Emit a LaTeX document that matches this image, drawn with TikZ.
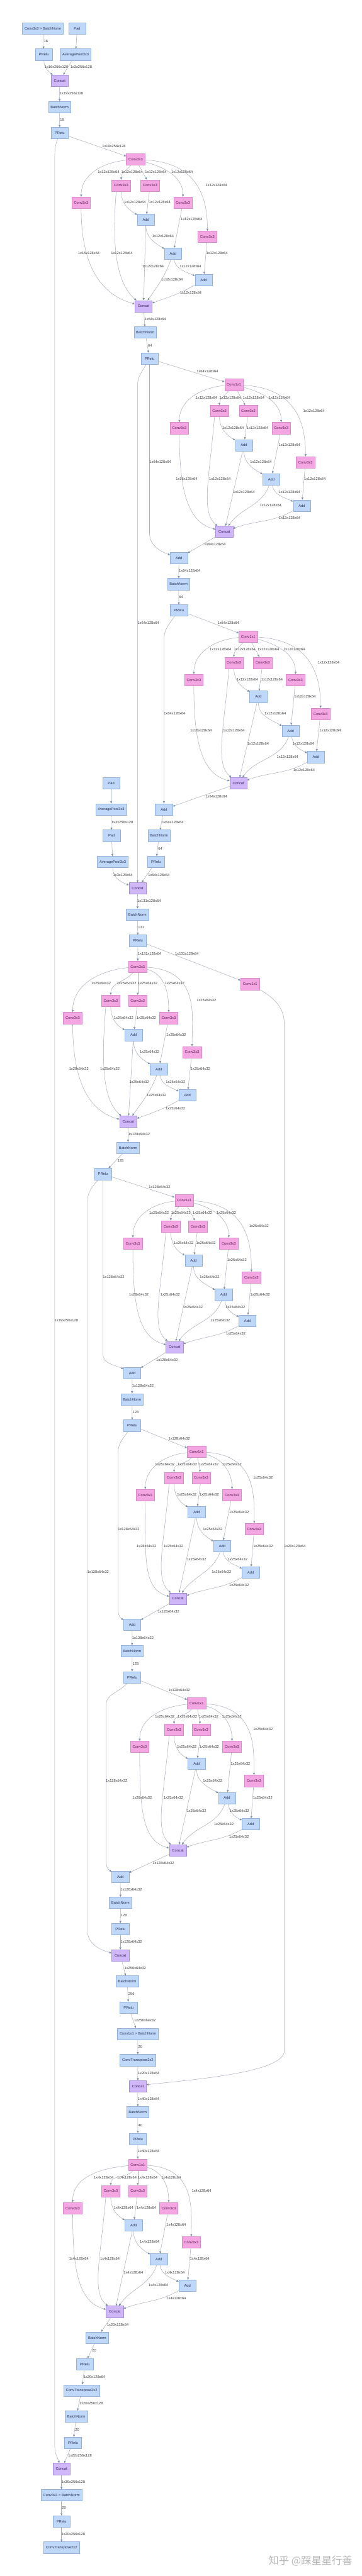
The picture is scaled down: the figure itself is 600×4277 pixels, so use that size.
\documentclass[tikz,border=0pt]{standalone}
\usepackage{fontspec}
\setmainfont{Liberation Sans}
\newfontfamily\cjkfont{Noto Sans CJK SC}
\usetikzlibrary{arrows.meta}
\definecolor{bfill}{RGB}{191,215,249}
\definecolor{bdraw}{RGB}{147,177,219}
\definecolor{pfill}{RGB}{244,166,227}
\definecolor{pdraw}{RGB}{212,138,203}
\definecolor{ufill}{RGB}{207,183,249}
\definecolor{udraw}{RGB}{165,142,214}
\definecolor{ecol}{RGB}{168,175,188}
\definecolor{acol}{RGB}{125,142,170}
\definecolor{lcol}{RGB}{60,60,60}
\definecolor{tcol}{RGB}{40,48,80}
\definecolor{ptcol}{RGB}{90,30,80}
\definecolor{utcol}{RGB}{60,30,90}
\newcommand\fsz{\fontsize{6}{7}\selectfont}
\tikzset{
  box/.style={draw, line width=0.55pt, minimum width=28.5pt, minimum height=19pt, inner xsep=3.6pt, inner ysep=0pt, font=\fsz, text=tcol},
  bl/.style={box, fill=bfill, draw=bdraw},
  pk/.style={box, fill=pfill, draw=pdraw, text=ptcol},
  pu/.style={box, fill=ufill, draw=udraw, text=utcol},
  edge/.style={draw=ecol, line width=0.55pt, -{Triangle[length=3.6pt,width=3.2pt,color=acol]}},
  lbl/.style={font=\fsz, text=lcol, inner sep=0pt},
}
\newcommand\nd[5]{\node[#2] (#1) at (#3,-#4) {#5};}
\newcommand\eS[5]{\draw[edge] (#1) -- (#2) node[lbl] at (#3,-#4) {#5};}
\newcommand\eN[2]{\draw[edge] (#1) -- (#2);}
\newcommand\fanR[7]{%
 \draw[edge] (#1r) to[out=185,in=90] (#1a) node[lbl] at (#3) {#2};
 \draw[edge] (#1r) to[out=-130,in=90] (#1b) node[lbl] at (#4) {#2};
 \draw[edge] (#1r) -- (#1c) node[lbl] at (#5) {#2};
 \draw[edge] (#1r) to[out=-15,in=90] (#1d) node[lbl] at (#6) {#2};
 \draw[edge] (#1r) to[out=-3,in=90,out looseness=1.5,in looseness=0.8] (#1e) node[lbl] at (#7) {#2};
}
\newcommand\fanS[8]{%
 \draw[edge] (#1b) to[out=-90,in=150] (#1s1) node[lbl] at (#3) {#2};
 \draw[edge] (#1c) -- (#1s1) node[lbl] at (#4) {#2};
 \draw[edge] (#1s1) to[out=-90,in=150] (#1s2) node[lbl] at (#5) {#2};
 \draw[edge] (#1d) -- (#1s2) node[lbl] at (#6) {#2};
 \draw[edge] (#1s2) to[out=-80,in=155] (#1s3) node[lbl] at (#7) {#2};
 \draw[edge] (#1e) -- (#1s3) node[lbl] at (#8) {#2};
}
\newcommand\fanK[8]{%
 \draw[edge] (#1a) to[out=-90,in=165,out looseness=1.5,in looseness=0.7] (#1k) node[lbl] at (#4) {#3};
 \draw[edge] (#1b.-130) to[out=-95,in=140,out looseness=1.5,in looseness=0.5] (#1k) node[lbl] at (#5) {#2};
 \draw[edge] (#1s1) -- (#1k) node[lbl] at (#6) {#2};
 \draw[edge] (#1s2) to[out=-110,in=55] (#1k) node[lbl] at (#7) {#2};
 \draw[edge] (#1s3) to[out=210,in=20] (#1k) node[lbl] at (#8) {#2};
}
% block nodes: prefix, root text, then coordinates
\newcommand\fanNodes[9]{%
 \nd{#1a}{pk}{#3}{Conv3x3}
 \nd{#1b}{pk}{#4}{Conv3x3}
 \nd{#1c}{pk}{#5}{Conv3x3}
 \nd{#1d}{pk}{#6}{Conv3x3}
 \nd{#1e}{pk}{#7}{Conv3x3}
 \nd{#1s1}{bl}{#8}{Add}
 \nd{#1s2}{bl}{#9}{Add}
}
\begin{document}
\begin{tikzpicture}[x=1pt,y=1pt]
\fill[white] (0,0) rectangle (600,-4277);
\useasboundingbox (0,0) rectangle (600,-4277);

% ---------- top ----------
\nd{n1}{bl}{71}{47}{Conv3x3 > BatchNorm}
\nd{n2}{bl}{128}{47}{Pad}
\nd{n3}{bl}{72.7}{90.5}{PRelu}
\nd{n4}{bl}{125.4}{90.5}{AveragePool3x3}
\nd{n5}{pu}{99}{134}{Concat}
\nd{n6}{bl}{98.8}{177.8}{BatchNorm}
\nd{n7}{bl}{99}{221}{PRelu}

% ---------- block 1 ----------
\nd{b1r}{pk}{225}{264.7}{Conv3x3}
\node[pk] (b1a) at (134.6,-336.5) {Conv3x3};
\node[pk] (b1b) at (201,-308) {Conv3x3};
\node[pk] (b1c) at (249,-308) {Conv3x3};
\node[pk] (b1d) at (303.5,-336.5) {Conv3x3};
\node[pk] (b1e) at (344,-393) {Conv3x3};
\node[bl] (b1s1) at (242,-365) {Add};
\node[bl] (b1s2) at (287,-421.3) {Add};
\node[bl] (b1s3) at (337.7,-464.8) {Add};
\node[pu] (b1k) at (238,-508.5) {Concat};
\nd{m1}{bl}{240.8}{551.8}{BatchNorm}
\nd{m2}{bl}{248}{595.5}{PRelu}

% ---------- block 2 ----------
\nd{b2r}{pk}{388}{638.8}{Conv1x1}
\node[pk] (b2a) at (297.5,-710.8) {Conv3x3};
\node[pk] (b2b) at (364,-682.5) {Conv3x3};
\node[pk] (b2c) at (412,-682.5) {Conv3x3};
\node[pk] (b2d) at (466.4,-710.8) {Conv3x3};
\node[pk] (b2e) at (506.7,-767.5) {Conv3x3};
\node[bl] (b2s1) at (404.6,-739.2) {Add};
\node[bl] (b2s2) at (450,-795.8) {Add};
\node[bl] (b2s3) at (500.6,-839.5) {Add};
\node[pu] (b2k) at (372,-882.8) {Concat};
\nd{m3}{bl}{296.7}{926.7}{Add}
\nd{m4}{bl}{296.3}{969.8}{BatchNorm}
\nd{m5}{bl}{296.7}{1013.2}{PRelu}

% ---------- block 3 ----------
\nd{b3r}{pk}{411.7}{1057}{Conv1x1}
\node[pk] (b3a) at (321.5,-1129) {Conv3x3};
\node[pk] (b3b) at (388,-1100.5) {Conv3x3};
\node[pk] (b3c) at (435.7,-1100.5) {Conv3x3};
\node[pk] (b3d) at (490.2,-1129) {Conv3x3};
\node[pk] (b3e) at (531.7,-1185.2) {Conv3x3};
\node[bl] (b3s1) at (428.5,-1156.8) {Add};
\node[bl] (b3s2) at (482,-1213.7) {Add};
\node[bl] (b3s3) at (524,-1257) {Add};
\node[pu] (b3k) at (395.4,-1300.5) {Concat};
\nd{m6}{bl}{271.9}{1343.8}{Add}
\nd{m7}{bl}{263.8}{1387.5}{BatchNorm}
\nd{m8}{bl}{258.8}{1431.2}{PRelu}
\nd{q1}{bl}{184.4}{1300.5}{Pad}
\nd{q2}{bl}{184.4}{1343.8}{AveragePool3x3}
\nd{q3}{bl}{185}{1387.5}{Pad}
\nd{q4}{bl}{187}{1431.2}{AveragePool3x3}
\nd{m9}{pu}{228.2}{1474.8}{Concat}
\nd{m10}{bl}{228}{1518.2}{BatchNorm}
\nd{m11}{bl}{228.7}{1561.8}{PRelu}
\nd{sd}{pk}{414.8}{1633.8}{Conv1x1}

% ---------- block 4 ----------
\nd{b4r}{pk}{228.5}{1605.2}{Conv3x3}
\node[pk] (b4a) at (120.6,-1690.2) {Conv3x3};
\node[pk] (b4b) at (183.7,-1661.8) {Conv3x3};
\node[pk] (b4c) at (228.5,-1661.8) {Conv3x3};
\node[pk] (b4d) at (279.8,-1690.2) {Conv3x3};
\node[pk] (b4e) at (318.5,-1746.8) {Conv3x3};
\node[bl] (b4s1) at (221.5,-1718.5) {Add};
\node[bl] (b4s2) at (263.5,-1775.2) {Add};
\node[bl] (b4s3) at (310.8,-1818.5) {Add};
\node[pu] (b4k) at (212.7,-1862.2) {Concat};
\nd{m12}{bl}{212.3}{1905.8}{BatchNorm}
\nd{m13}{bl}{170.8}{1949.2}{PRelu}

% ---------- block 5 ----------
\nd{b5r}{pk}{305.5}{1993}{Conv1x1}
\node[pk] (b5a) at (220.4,-2064.5) {Conv3x3};
\node[pk] (b5b) at (283.3,-2036.2) {Conv3x3};
\node[pk] (b5c) at (328.3,-2036.2) {Conv3x3};
\node[pk] (b5d) at (379.4,-2064.5) {Conv3x3};
\node[pk] (b5e) at (417,-2121.2) {Conv3x3};
\node[bl] (b5s1) at (321,-2092.8) {Add};
\node[bl] (b5s2) at (371,-2149.8) {Add};
\node[bl] (b5s3) at (410.4,-2192.8) {Add};
\node[pu] (b5k) at (289.6,-2236.5) {Concat};
\nd{m14}{bl}{219.2}{2279.8}{Add}
\nd{m15}{bl}{219}{2323.3}{BatchNorm}
\nd{m16}{bl}{219.2}{2366.8}{PRelu}

% ---------- block 6 ----------
\nd{b6r}{pk}{326}{2410.5}{Conv1x1}
\node[pk] (b6a) at (241,-2482.2) {Conv3x3};
\node[pk] (b6b) at (288.7,-2453.8) {Conv3x3};
\node[pk] (b6c) at (333.7,-2453.8) {Conv3x3};
\node[pk] (b6d) at (384.8,-2482.2) {Conv3x3};
\node[pk] (b6e) at (421.7,-2538.8) {Conv3x3};
\node[bl] (b6s1) at (326.2,-2510.5) {Add};
\node[bl] (b6s2) at (368.5,-2567.2) {Add};
\node[bl] (b6s3) at (415.8,-2610.7) {Add};
\node[pu] (b6k) at (295,-2654.3) {Concat};
\nd{m17}{bl}{219.2}{2697.8}{Add}
\nd{m18}{bl}{219}{2741.5}{BatchNorm}
\nd{m19}{bl}{219.2}{2784.8}{PRelu}

% ---------- block 7 ----------
\nd{b7r}{pk}{326}{2828.3}{Conv1x1}
\node[pk] (b7a) at (231.7,-2900.2) {Conv3x3};
\node[pk] (b7b) at (288.7,-2871.8) {Conv3x3};
\node[pk] (b7c) at (333.7,-2871.8) {Conv3x3};
\node[pk] (b7d) at (384.8,-2900.2) {Conv3x3};
\node[pk] (b7e) at (421.2,-2956.8) {Conv3x3};
\node[bl] (b7s1) at (326.2,-2928.5) {Add};
\node[bl] (b7s2) at (376.5,-2985.2) {Add};
\node[bl] (b7s3) at (415.8,-3028.8) {Add};
\node[pu] (b7k) at (295,-3072.2) {Concat};
\nd{m20}{bl}{199.6}{3115.8}{Add}
\nd{m21}{bl}{199.8}{3159.2}{BatchNorm}
\nd{m22}{bl}{199.6}{3202.8}{PRelu}
\nd{m23}{pu}{199.6}{3246.5}{Concat}
\nd{m24}{bl}{211}{3289.8}{BatchNorm}
\nd{m25}{bl}{213.3}{3333.2}{PRelu}
\nd{m26}{bl}{228.7}{3376.8}{Conv1x1 > BatchNorm}
\nd{m27}{bl}{228.5}{3420.5}{ConvTranspose2x2}
\nd{m28}{pu}{228.7}{3463.8}{Concat}
\nd{m29}{bl}{228.5}{3507}{BatchNorm}
\nd{m30}{bl}{228.7}{3551.2}{PRelu}

% ---------- block 8 ----------
\nd{b8r}{pk}{228.5}{3594.3}{Conv1x1}
\node[pk] (b8a) at (120.6,-3666.2) {Conv3x3};
\node[pk] (b8b) at (183.7,-3637.8) {Conv3x3};
\node[pk] (b8c) at (228.5,-3637.8) {Conv3x3};
\node[pk] (b8d) at (279.8,-3666.2) {Conv3x3};
\node[pk] (b8e) at (317.3,-3722.8) {Conv3x3};
\node[bl] (b8s1) at (221.5,-3694.5) {Add};
\node[bl] (b8s2) at (263.5,-3751.2) {Add};
\node[bl] (b8s3) at (310.8,-3794.8) {Add};
\node[pu] (b8k) at (190.4,-3838.2) {Concat};
\nd{m31}{bl}{161.2}{3881.5}{BatchNorm}
\nd{m32}{bl}{140.8}{3925.2}{PRelu}
\nd{m33}{bl}{135.4}{3968.8}{ConvTranspose2x2}
\nd{m34}{bl}{126.5}{4012.2}{BatchNorm}
\nd{m35}{bl}{121.2}{4055.8}{PRelu}
\nd{m36}{pu}{102}{4099.2}{Concat}
\nd{m37}{bl}{102}{4142.8}{Conv3x3 > BatchNorm}
\nd{m38}{bl}{102}{4186.2}{PRelu}
\nd{m39}{bl}{102}{4229.8}{ConvTranspose2x2}

\node[text=black!28, font=\cjkfont\fontsize{17}{17}\selectfont] (wm) at (515,-4252) {知乎 @踩星星行善};

% ---------- edges: top ----------
\eS{n1}{n3}{76}{68.7}{16}
\eN{n2}{n4}
\draw[edge] (n3) to[out=-90,in=140] (n5) node[lbl] at (93.5,-111.7) {1x16x256x128};
\eS{n4}{n5}{134.6}{111.7}{1x3x256x128}
\eS{n5}{n6}{118.5}{155.3}{1x19x256x128}
\eS{n6}{n7}{103}{199}{19}
\eS{n7}{b1r}{189}{242.3}{1x19x256x128}
\draw[edge] (n7) to[out=-110,in=90] (90.8,-262) -- (90.8,-4062) to[out=-90,in=110] (m36) node[lbl] at (110,-2192.7) {1x19x256x128};

% ---------- block edges ----------
\fanR{b1}{1x12x128x64}{180,-286}{219,-286}{258.5,-286}{302,-286}{359,-307.7}
\fanS{b1}{1x12x128x64}{224,-335.7}{265,-335.7}{270.4,-392.3}{317.7,-364}{315.8,-442.7}{360,-420.7}
\fanK{b1}{1x12x128x64}{1x16x128x64}{147.3,-420.7}{202,-420.7}{253.8,-442.7}{285.4,-464.3}{316.5,-486}

\fanR{b2}{1x12x128x64}{342.3,-660.3}{382,-660.3}{420.8,-660.3}{463.8,-660.3}{520.8,-682}
\fanS{b2}{1x12x128x64}{386.5,-710.3}{427,-710.3}{432.7,-766.7}{480,-738.7}{480,-817}{522.3,-795}
\fanK{b2}{1x12x128x64}{1x16x128x64}{309.6,-795}{364.6,-795}{404.6,-817}{448.8,-838.7}{480.4,-860.3}

\fanR{b3}{1x12x128x64}{365.8,-1078.3}{406,-1078.3}{445,-1078.3}{488,-1078.3}{545,-1100}
\fanS{b3}{1x12x128x64}{410.4,-1128.3}{451,-1128.3}{456.5,-1185}{505.8,-1156.7}{503,-1234.7}{547.7,-1213}
\fanK{b3}{1x12x128x64}{1x16x128x64}{333.5,-1213}{388,-1213}{428,-1234.7}{477,-1256.7}{504.2,-1278.3}

\fanR{b4}{1x25x64x32}{167.7,-1633}{210,-1633}{245,-1633}{289.6,-1633}{342.3,-1661.3}
\fanS{b4}{1x25x64x32}{205,-1689.7}{242.7,-1689.7}{248,-1746.3}{292.3,-1718}{291.2,-1796.3}{332.3,-1774.7}
\fanK{b4}{1x25x64x32}{1x28x64x32}{130.8,-1774.7}{182.3,-1774.7}{230.8,-1796.3}{259.6,-1818.3}{290.8,-1840}

\fanR{b5}{1x25x64x32}{263.8,-2014}{300,-2014}{335.8,-2014}{375.4,-2014}{429.6,-2035.7}
\fanS{b5}{1x25x64x32}{304.6,-2064}{341.5,-2064}{347.7,-2120.7}{393,-2092.3}{390.4,-2170.7}{431.5,-2149}
\fanK{b5}{1x25x64x32}{1x28x64x32}{230.4,-2149}{282.3,-2149}{320,-2170.7}{365.4,-2192.7}{391.2,-2214.3}

\fanR{b6}{1x25x64x32}{273.5,-2431.7}{310.8,-2431.7}{346.2,-2431.7}{384.6,-2431.7}{436.2,-2453.7}
\fanS{b6}{1x25x64x32}{310,-2482}{347,-2482}{352.7,-2538.7}{396.5,-2510.3}{394.2,-2588.7}{436.2,-2567}
\fanK{b6}{1x25x64x32}{1x28x64x32}{243,-2567}{287.7,-2567}{325.8,-2588.7}{367.3,-2610.3}{396.5,-2632.3}

\fanR{b7}{1x25x64x32}{273.5,-2849.7}{310.8,-2849.7}{346.2,-2849.7}{384.6,-2849.7}{436.2,-2871.3}
\fanS{b7}{1x25x64x32}{310,-2899.7}{347,-2899.7}{352.7,-2956.3}{398.8,-2928}{397,-3006.7}{435.8,-2984.7}
\fanK{b7}{1x25x64x32}{1x28x64x32}{235.8,-2984.7}{287.7,-2984.7}{325.8,-3006.7}{371.2,-3028.3}{396.5,-3050}

\fanR{b8}{1x4x128x64}{172,-3615.7}{210.4,-3615.7}{245,-3615.7}{283.8,-3615.7}{334.2,-3637.3}
\fanS{b8}{1x4x128x64}{205,-3665.7}{242.7,-3665.7}{248,-3722.3}{292.3,-3694}{290,-3772.7}{331.2,-3750.7}
\fanK{b8}{1x4x128x64}{1x4x128x64}{130.8,-3750.7}{182.3,-3750.7}{221.2,-3772.7}{262.7,-3794.3}{292.3,-3816}

% ---------- main chain ----------
\eS{b1k}{m1}{257.7}{529.7}{1x64x128x64}
\eS{m1}{m2}{248.8}{573.3}{64}
\eS{m2}{b2r}{344}{616.7}{1x64x128x64}
\draw[edge] (m2.south) -- (248,-885) to[out=-90,in=160] (m3) node[lbl] at (265.8,-766.7) {1x64x128x64};
\draw[edge] (m2) to[out=-120,in=90] (228.2,-640) -- (m9) node[lbl] at (246,-1034.7) {1x64x128x64};
\eS{b2k}{m3}{356.5}{904}{1x64x128x64}
\eS{m3}{m4}{314.6}{947.7}{1x64x128x64}
\eS{m4}{m5}{300.4}{991}{64}
\eS{m5}{b3r}{378.8}{1034.7}{1x64x128x64}
\draw[edge] (m5) to[out=-125,in=90] (271.9,-1062) -- (m6) node[lbl] at (289.6,-1184.7) {1x64x128x64};
\eS{b3k}{m6}{358.8}{1322}{1x64x128x64}
\eS{m6}{m7}{286.5}{1365.3}{1x64x128x64}
\eS{m7}{m8}{265.8}{1409}{64}
\eS{m8}{m9}{263.5}{1452.7}{1x64x128x64}
\eN{q1}{q2}
\eS{q2}{q3}{202.7}{1365.3}{1x3x256x128}
\eN{q3}{q4}
\draw[edge] (q4) to[out=-90,in=160] (m9) node[lbl] at (203.8,-1452.7) {1x3x128x64};
\eS{m9}{m10}{247.3}{1495.7}{1x131x128x64}
\eS{m10}{m11}{234.2}{1539.7}{131}
\eS{m11}{b4r}{248}{1583}{1x131x128x64}
\eS{m11}{sd}{310}{1583}{1x131x128x64}
\draw[edge] (sd) to[out=-30,in=90] (471.5,-1700) -- (471.5,-3405) .. controls (471.5,-3440) and (330,-3452) .. (m28.10) node[lbl] at (489.2,-2567) {1x20x128x64};
\eS{b4k}{m12}{230.8}{1883.7}{1x128x64x32}
\eS{m12}{m13}{200}{1927}{128}
\eS{m13}{b5r}{264.6}{1970.7}{1x128x64x32}
\draw[edge] (m13) to[out=-130,in=90] (145,-1995) -- (145,-3205) to[out=-90,in=165] (m23) node[lbl] at (162.7,-2610) {1x128x64x32};
\draw[edge] (m13.south) -- (170.8,-2248) to[out=-90,in=155] (m14) node[lbl] at (188.5,-2120.7) {1x128x64x32};
\eS{b5k}{m14}{277}{2258}{1x128x64x32}
\eS{m14}{m15}{237}{2301}{1x128x64x32}
\eS{m15}{m16}{225}{2344.7}{128}
\eS{m16}{b6r}{297.3}{2388.3}{1x128x64x32}
\draw[edge] (m16) to[out=-125,in=90] (195.8,-2412) -- (195.8,-2668) to[out=-90,in=150] (m17) node[lbl] at (213.5,-2538.7) {1x128x64x32};
\eS{b6k}{m17}{279.6}{2675.7}{1x128x64x32}
\eS{m17}{m18}{237}{2719.3}{1x128x64x32}
\eS{m18}{m19}{225}{2762.7}{128}
\eS{m19}{b7r}{297.3}{2806}{1x128x64x32}
\draw[edge] (m19) to[out=-130,in=90] (175.8,-2832) -- (175.8,-3088) to[out=-90,in=150] (m20) node[lbl] at (193.5,-2956.3) {1x128x64x32};
\eS{b7k}{m20}{271}{3093.3}{1x128x64x32}
\eS{m20}{m21}{217.7}{3137}{1x128x64x32}
\eS{m21}{m22}{205.4}{3180.3}{128}
\eS{m22}{m23}{217.7}{3224}{1x128x64x32}
\eS{m23}{m24}{224.2}{3267.7}{1x256x64x32}
\eS{m24}{m25}{218}{3311}{256}
\eS{m25}{m26}{240.4}{3354.7}{1x256x64x32}
\eS{m26}{m27}{232.7}{3398}{20}
\eS{m27}{m28}{246.5}{3441.7}{1x20x128x64}
\eS{m28}{m29}{246.5}{3485}{1x40x128x64}
\eS{m29}{m30}{232.7}{3528.7}{40}
\eS{m30}{b8r}{246.5}{3572}{1x40x128x64}
\eS{b8k}{m31}{195.4}{3859.3}{1x20x128x64}
\eS{m31}{m32}{156.2}{3903}{20}
\eS{m32}{m33}{156.5}{3946.3}{1x20x128x64}
\eS{m33}{m34}{151.2}{3990}{1x20x256x128}
\eS{m34}{m35}{128}{4033.7}{20}
\eS{m35}{m36}{132.7}{4077}{1x20x256x128}
\eS{m36}{m37}{121.5}{4120.7}{1x39x256x128}
\eS{m37}{m38}{106}{4164}{20}
\eS{m38}{m39}{121.5}{4207.7}{1x20x256x128}
\end{tikzpicture}
\end{document}
